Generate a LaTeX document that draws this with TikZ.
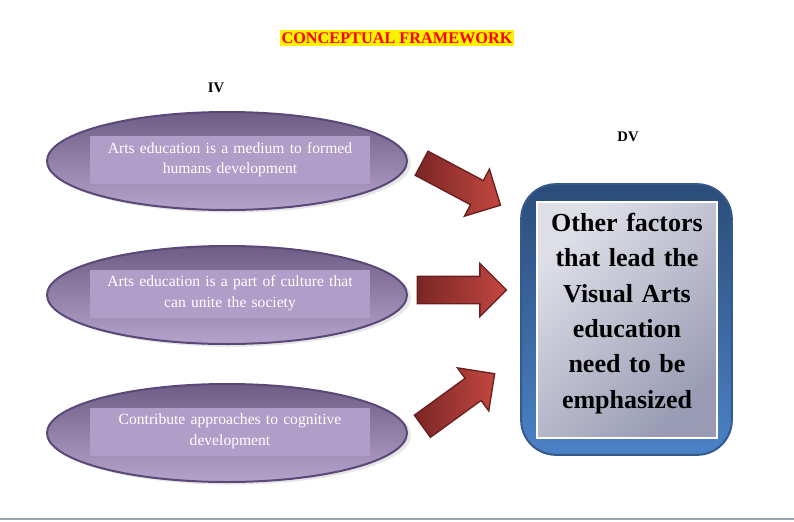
\documentclass[tikz,border=0pt]{standalone}
\usepackage{fontspec}
\setmainfont{Liberation Serif}
\usepackage{xcolor}
\usetikzlibrary{shapes.geometric, shapes.arrows, shadows, positioning}
\definecolor{ovaltop}{HTML}{6E5E85}
\definecolor{ovalbottom}{HTML}{B4A4CC}
\definecolor{ovalline}{HTML}{5A4878}
\definecolor{labelfill}{HTML}{B09DC8}
\definecolor{arrowdark}{HTML}{7A2626}
\definecolor{arrowlight}{HTML}{C2473F}
\definecolor{arrowline}{HTML}{6A1E1E}
\definecolor{dvtop}{HTML}{2B4C7A}
\definecolor{dvbottom}{HTML}{4B82C6}
\definecolor{dvline}{HTML}{34598A}
\definecolor{panelA}{HTML}{DEDFE7}
\definecolor{panelB}{HTML}{999BB4}
\definecolor{rulegray}{HTML}{9AA4AC}

\tikzset{
  ivoval/.style={ellipse, draw=ovalline, line width=1.5pt,
    top color=ovaltop, bottom color=ovalbottom,
    minimum width=270pt, minimum height=73.5pt,
    drop shadow={opacity=0.2, shadow xshift=3pt, shadow yshift=-2pt}},
  ivlabel/.style={fill=labelfill, text=white, inner sep=0pt,
    minimum width=210pt, minimum height=36pt, text width=208pt, align=center,
    font=\fontsize{11.7}{15.5}\selectfont},
  fatarrow/.style={single arrow, draw=arrowline, line width=1pt,
    left color=arrowdark, right color=arrowlight, inner xsep=0pt, inner ysep=9.75pt,
    minimum height=67pt, minimum width=39pt, single arrow head extend=9.75pt},
  dvbox/.style={draw=dvline, line width=1.5pt, rounded corners=26pt,
    top color=dvtop, bottom color=dvbottom,
    minimum width=158pt, minimum height=203pt},
  dvpanel/.style={draw=white, line width=0.8pt, top color=panelA, bottom color=panelB,
    shading angle=45, inner sep=0pt, minimum width=135pt, minimum height=177pt},
  dvtext/.style={text width=135pt, align=center, inner sep=0pt,
    font=\bfseries\fontsize{19.5}{26.5}\selectfont},
  headlabel/.style={font=\bfseries\fontsize{11}{13}\selectfont}
}

\begin{document}
\begin{tikzpicture}[x=0.75pt, y=-0.75pt]
\useasboundingbox (0,0) rectangle (794,522);

\node[fill=yellow, text=red, inner xsep=1pt, inner ysep=2pt,
  font=\bfseries\fontsize{12.2}{14}\selectfont] (title) at (397,38) {CONCEPTUAL FRAMEWORK};

\node[headlabel] (iv) at (216,88) {IV};
\node[headlabel] (dvhead) at (628,137) {DV};

% independent variables
\foreach \n/\y/\t in {
    1/161/{Arts education is a medium to formed\\humans development},
    2/295/{Arts education is a part of culture that\\can unite the society},
    3/433/{Contribute approaches to cognitive\\development}}
{
    \node[ivoval] (oval\n) at (227,\y) {};
    \node[ivlabel] (lab\n) at (230,\y-1.5) {\t};
}

% dependent variable
\node[dvbox] (dv) at (626.5,319.5) {};
\node[dvpanel] (panel) at (627,320) {};
\node[dvtext] (dvlab) at (627,313.5) {Other factors\\that lead the\\Visual Arts\\education\\need to be\\emphasized};

% block arrows
\node[fatarrow, rotate=-28] (arr1) at (455,181) {};
\node[fatarrow] (arr2) at (455,290) {};
\node[fatarrow, rotate=36] (arr3) at (453,404) {};

\draw[rulegray, line width=1pt] (0,519) -- (794,519);
\end{tikzpicture}
\end{document}
